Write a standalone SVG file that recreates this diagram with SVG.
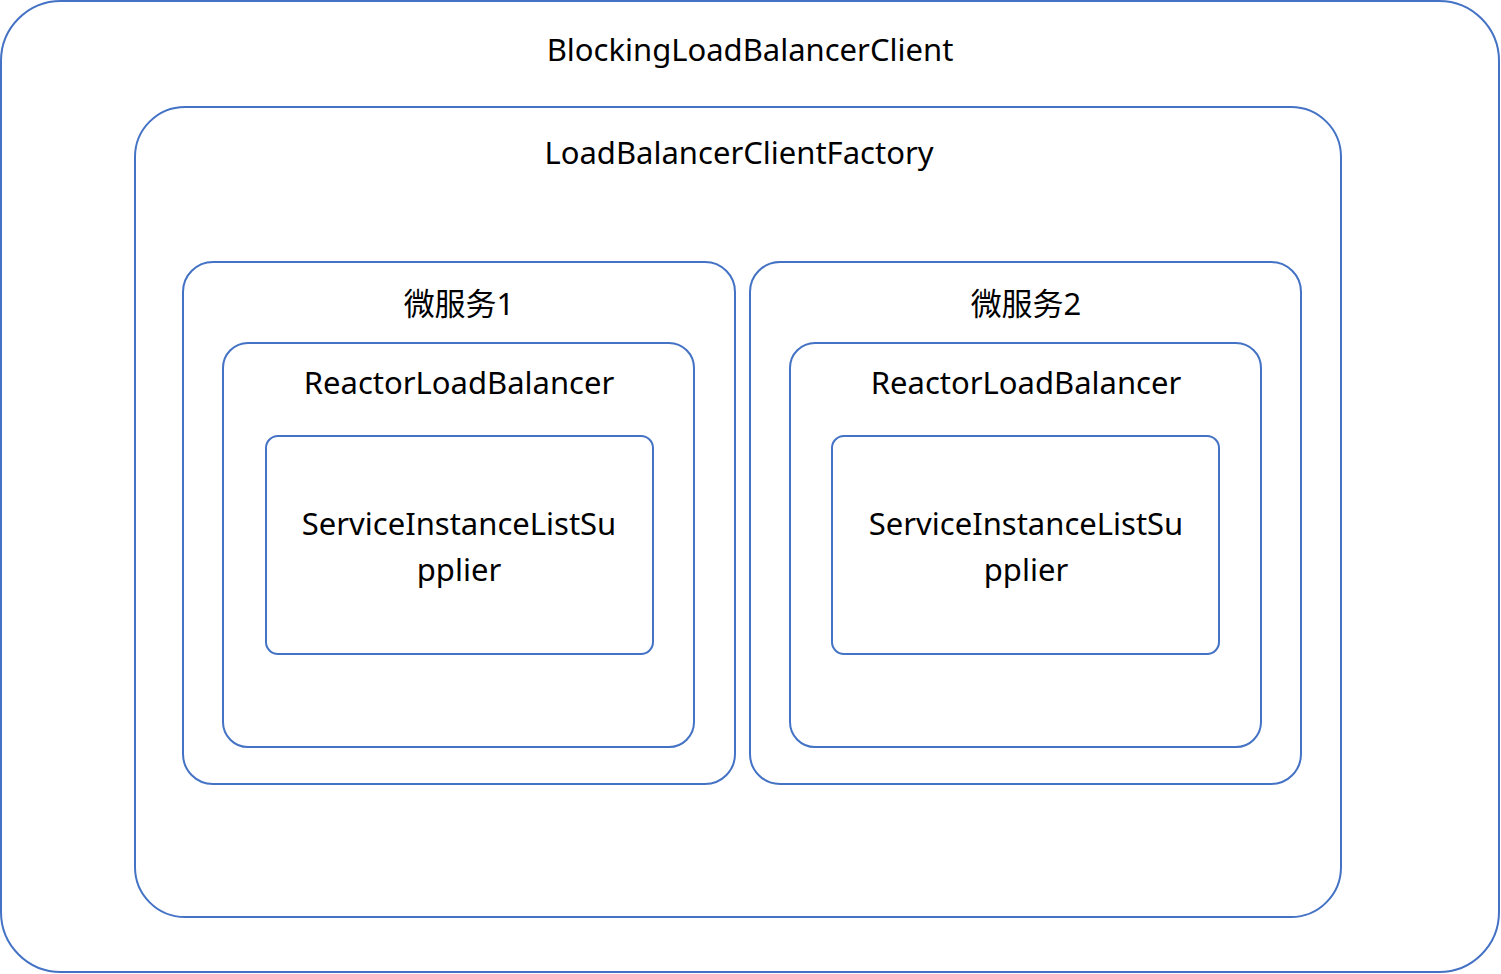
<svg xmlns="http://www.w3.org/2000/svg" width="1501" height="974" viewBox="0 0 1501 974">
<style>
rect{fill:#fff;stroke:#4472C4;stroke-width:2}
text{font-family:"Noto Sans","Noto Sans CJK SC",sans-serif;font-size:31px;fill:#000;text-anchor:middle}
</style>
<rect x="0" y="0" width="1501" height="974" style="stroke:none"/>
<g id="outer"><rect x="1" y="1" width="1498" height="971" rx="60"/><text x="750" y="61">BlockingLoadBalancerClient</text></g>
<g id="factory"><rect x="135" y="107" width="1206" height="810" rx="50"/><text x="739" y="164">LoadBalancerClientFactory</text></g>
<g id="ms1"><rect x="183" y="262" width="552" height="522" rx="30"/><text x="459" y="315">微服务1</text></g>
<g id="ms2"><rect x="750" y="262" width="551" height="522" rx="30"/><text x="1026" y="315">微服务2</text></g>
<g id="rlb1"><rect x="223" y="343" width="471" height="404" rx="25"/><text x="459" y="394">ReactorLoadBalancer</text></g>
<g id="rlb2"><rect x="790" y="343" width="471" height="404" rx="25"/><text x="1026" y="394">ReactorLoadBalancer</text></g>
<g id="sils1"><rect x="266" y="436" width="387" height="218" rx="12"/><text x="459" y="535">ServiceInstanceListSu</text><text x="459" y="581">pplier</text></g>
<g id="sils2"><rect x="832" y="436" width="387" height="218" rx="12"/><text x="1026" y="535">ServiceInstanceListSu</text><text x="1026" y="581">pplier</text></g>
<g id="connectors"/>
</svg>
